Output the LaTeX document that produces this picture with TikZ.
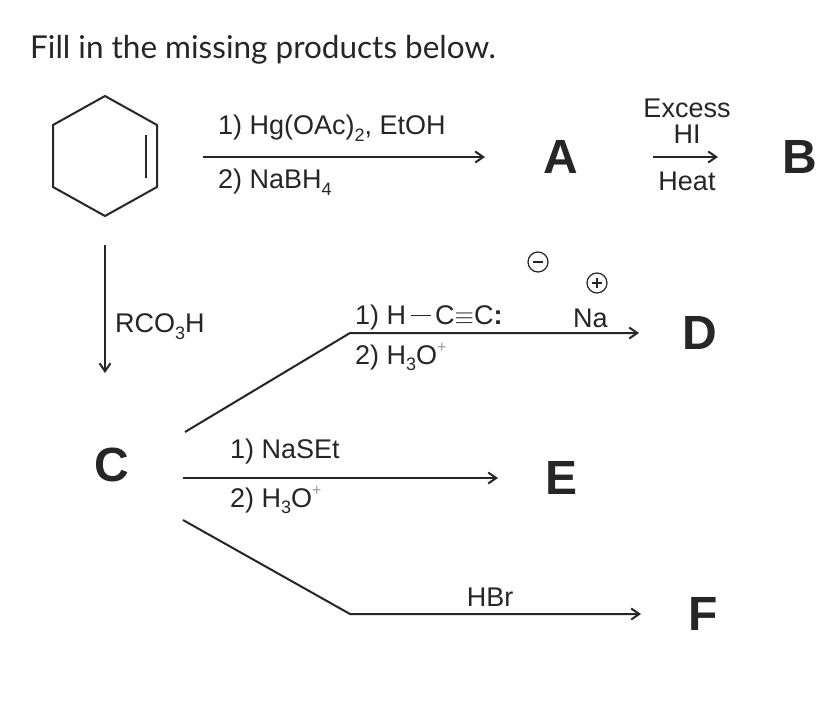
\documentclass[tikz,border=0pt]{standalone}
\usepackage{fontspec}
\setmainfont{Liberation Sans}
\newfontfamily\latofont{Lato}
\usetikzlibrary{arrows.meta}
\newcommand{\mysb}[1]{\raisebox{-0.25em}{\fontsize{18}{18}\selectfont #1}}
\newcommand{\mysp}[1]{\raisebox{0.45em}{\fontsize{16}{16}\selectfont #1}}
\begin{document}
\begin{tikzpicture}[x=1pt,y=-1pt,
  rx/.style={draw=black!85,line width=2pt,-{Straight Barb[length=8pt,width=11pt]}},
  bond/.style={draw=black!85,line width=2pt},
  lab/.style={anchor=west,font=\fontsize{27}{29}\selectfont,inner sep=0pt,text=black!85},
  big/.style={font=\fontsize{48}{52}\selectfont\bfseries,inner sep=0pt,text=black!85},
  chg/.style={draw=black!85,circle,line width=1.2pt,minimum size=20pt,inner sep=0pt}]
\useasboundingbox (0,0) rectangle (840,706);
\fill[white] (0,0) rectangle (840,706);
\node[anchor=west,inner sep=0pt,font=\latofont\fontsize{31.5}{34}\selectfont,text=black!85] (title) at (30,50) {Fill in the missing products below.};
% cyclohexene
\draw[bond] (105,96) -- (157,125) -- (157,187) -- (105,216) -- (53,187) -- (53,125) -- cycle;
\draw[bond] (146,135) -- (146,178);
\coordinate (s1) at (203,157);
\node[big] (A) at (561,157) {A};
\draw[rx] (s1) -- (485,157);
\node[lab] (r1) at (218,128) {1) Hg(OAc)\mysb{2}, EtOH};
\node[lab] (r2) at (218,182) {2) NaBH\mysb{4}};
% A -> B
\coordinate (s2) at (653,157);
\node[big] (B) at (800,157) {B};
\draw[rx] (s2) -- (718,157);
\node[lab,anchor=center] (ex) at (687,108) {Excess};
\node[lab,anchor=center] (hi) at (687,134) {HI};
\node[lab,anchor=center] (he) at (687,181) {Heat};
% vertical
\coordinate (v1) at (105,245);
\node[big] (C) at (112,465) {C};
\draw[rx] (v1) -- (105,373);
\node[lab] (rc) at (115,327) {RCO\mysb{3}H};
% upper branch
\coordinate (u0) at (185,432);
\coordinate (u1) at (350,333);
\node[big] (D) at (700,333) {D};
\draw[rx] (u0) -- (u1) -- (639,333);
\node[lab] (d1) at (355,318) {1) H\,\rule[0.33em]{20pt}{1.5pt}\,C$\equiv$C\textbf{:}};
\node[chg] (m1) at (538,262) {};
\draw[line width=1.4pt,black!85] ([xshift=-5pt]m1.center) -- ([xshift=5pt]m1.center);
\node[lab] (na) at (573,318) {Na};
\node[chg] (p1) at (597,283) {};
\draw[line width=1.4pt,black!85] ([xshift=-5pt]p1.center) -- ([xshift=5pt]p1.center)
  ([yshift=-5pt]p1.center) -- ([yshift=5pt]p1.center);
\node[lab] (d2) at (355,357) {2) H\mysb{3}O\mysp{\textcolor{black!40}{+}}};
% middle
\coordinate (m0) at (183,478);
\node[big] (E) at (561,478) {E};
\draw[rx] (m0) -- (498,478);
\node[lab] (e1) at (230,452) {1) NaSEt};
\node[lab] (e2) at (230,500) {2) H\mysb{3}O\mysp{\textcolor{black!40}{+}}};
% lower
\coordinate (l0) at (183,520);
\coordinate (l1) at (350,614);
\node[big] (F) at (703,614) {F};
\draw[rx] (l0) -- (l1) -- (641,614);
\node[lab,anchor=center] (hbr) at (490,597) {HBr};
\end{tikzpicture}
\end{document}
